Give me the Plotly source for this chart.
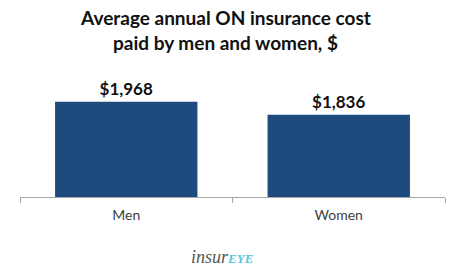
import plotly.graph_objects as go

categories = ["Men", "Women"]
values = [1968, 1836]
value_labels = ["<b>$1,968</b>", "<b>$1,836</b>"]
title_lines = ["Average annual ON insurance cost", "paid by men and women, $"]

fig = go.Figure()
fig.add_trace(go.Bar(
    x=categories, y=values,
    width=0.67,
    marker=dict(color="#1F4A7D", line=dict(width=0)),
    text=value_labels, textposition="outside", cliponaxis=False,
    textfont=dict(family="Lato", size=17, color="#111111"),
))

W, H = 450, 266
fig.update_layout(
    width=W, height=H,
    margin=dict(l=20, r=5, t=79, b=69),
    paper_bgcolor="white", plot_bgcolor="white",
    showlegend=False,
    xaxis=dict(
        type="category", range=[-0.5, 1.5],
        showline=True, linecolor="#A6A6A6", linewidth=1,
        ticks="outside", ticklen=5, tickcolor="#A6A6A6", tickson="boundaries",
        tickfont=dict(family="Lato", size=14, color="#404040"),
        ticklabelstandoff=5,
        showgrid=False, zeroline=False,
    ),
    yaxis=dict(range=[1000, 2200], visible=False, showgrid=False),
    bargap=0.33,
)

for i, line in enumerate(title_lines):
    fig.add_annotation(
        xref="paper", yref="paper", x=(225 - 20) / 425,
        y=1 + (79 - (17 + 26 * i)) / 118,
        xanchor="center", yanchor="middle", showarrow=False,
        text=f"<b>{line}</b>",
        font=dict(family="Lato", size=19, color="#111111"),
    )

fig.add_annotation(
    xref="paper", yref="paper", x=(222 - 20) / 425, y=-(257 - 197) / 118,
    xanchor="center", yanchor="middle", showarrow=False,
    text="<i><span style='color:#555555'>insur</span></i><b><i><span style='color:#5BC3E0;font-size:13px'>EYE</span></i></b>",
    font=dict(family="Liberation Serif", size=18, color="#555555"),
)

fig.write_html("out.html")
